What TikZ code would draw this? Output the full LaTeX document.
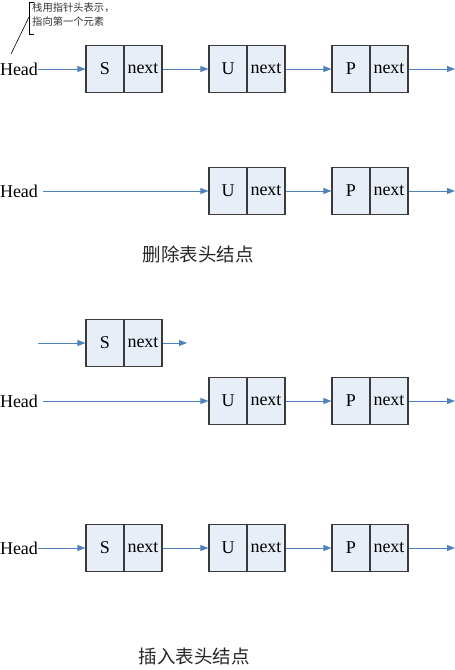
\documentclass[tikz,border=0pt]{standalone}
\usepackage{fontspec}
\setmainfont{Liberation Serif}
\newfontfamily\cjk{Noto Sans CJK SC}
\usetikzlibrary{arrows.meta}
\definecolor{boxfill}{HTML}{E8EEF7}
\definecolor{boxline}{HTML}{3A3A3A}
\definecolor{arrblue}{HTML}{4F81BD}
\tikzset{
  cell/.style={draw=boxline, fill=boxfill, line width=1.1pt, minimum width=38pt, minimum height=47pt, inner sep=0pt, font=\fontsize{18}{18}\selectfont},
  headtxt/.style={inner sep=0pt, font=\fontsize{18}{18}\selectfont},
  arr/.style={draw=arrblue, line width=0.9pt, -{Triangle[length=8pt,width=6pt]}},
  caption/.style={inner sep=0pt, font=\cjk\fontsize{18.5}{18.5}\selectfont, text=black!85},
  notetxt/.style={inner sep=0pt, align=left, font=\cjk\fontsize{10.3}{14}\selectfont, text=black!80},
  bracket/.style={draw=black, line width=0.6pt}
}
\begin{document}
\begin{tikzpicture}[x=1pt,y=-1pt]
\useasboundingbox (0,0) rectangle (455,670);
% callout
\node[notetxt, anchor=north west] (note) at (32,3) {栈用指针头表示，\\指向第一个元素};
\coordinate (bt) at (34,2);
\coordinate (btl) at (29,2);
\coordinate (bbl) at (29,34);
\coordinate (bb) at (34,34);
\coordinate (bm) at (29,17);
\coordinate (lead) at (11,54);
\draw[bracket] (bt) -- (btl) -- (bbl) -- (bb);
\draw[bracket] (bm) -- (lead);

% row 1
\node[headtxt] (h1) at (19,69) {Head};
\node[cell] (s1) at (105,69) {S};
\node[cell] (s1n) at (143,69) {next};
\node[cell] (u1) at (228,69) {U};
\node[cell] (u1n) at (266,69) {next};
\node[cell] (p1) at (351,69) {P};
\node[cell] (p1n) at (389,69) {next};
\coordinate (e1) at (455,69);
\draw[arr] (h1.east) -- (s1.west);
\draw[arr] (s1n.east) -- (u1.west);
\draw[arr] (u1n.east) -- (p1.west);
\draw[arr] (p1n.east) -- (e1);

% row 2
\node[headtxt] (h2) at (19,191) {Head};
\node[cell] (u2) at (228,191) {U};
\node[cell] (u2n) at (266,191) {next};
\node[cell] (p2) at (351,191) {P};
\node[cell] (p2n) at (389,191) {next};
\coordinate (e2) at (455,191);
\coordinate (h2s) at (43,191);
\draw[arr] (h2s) -- (u2.west);
\draw[arr] (u2n.east) -- (p2.west);
\draw[arr] (p2n.east) -- (e2);
\node[caption] (c1) at (198,254) {删除表头结点};

% row 3
\node[cell] (s3) at (105,343) {S};
\node[cell] (s3n) at (143,343) {next};
\coordinate (i3) at (38,343);
\coordinate (o3) at (187,343);
\draw[arr] (i3) -- (s3.west);
\draw[arr] (s3n.east) -- (o3);
\node[headtxt] (h3) at (19,401) {Head};
\node[cell] (u3) at (228,401) {U};
\node[cell] (u3n) at (266,401) {next};
\node[cell] (p3) at (351,401) {P};
\node[cell] (p3n) at (389,401) {next};
\coordinate (e3) at (455,401);
\coordinate (h3s) at (43,401);
\draw[arr] (h3s) -- (u3.west);
\draw[arr] (u3n.east) -- (p3.west);
\draw[arr] (p3n.east) -- (e3);

% row 4
\node[headtxt] (h4) at (19,548) {Head};
\node[cell] (s4) at (105,548) {S};
\node[cell] (s4n) at (143,548) {next};
\node[cell] (u4) at (228,548) {U};
\node[cell] (u4n) at (266,548) {next};
\node[cell] (p4) at (351,548) {P};
\node[cell] (p4n) at (389,548) {next};
\coordinate (e4) at (455,548);
\draw[arr] (h4.east) -- (s4.west);
\draw[arr] (s4n.east) -- (u4.west);
\draw[arr] (u4n.east) -- (p4.west);
\draw[arr] (p4n.east) -- (e4);
\node[caption] (c2) at (194,656) {插入表头结点};
\end{tikzpicture}
\end{document}
